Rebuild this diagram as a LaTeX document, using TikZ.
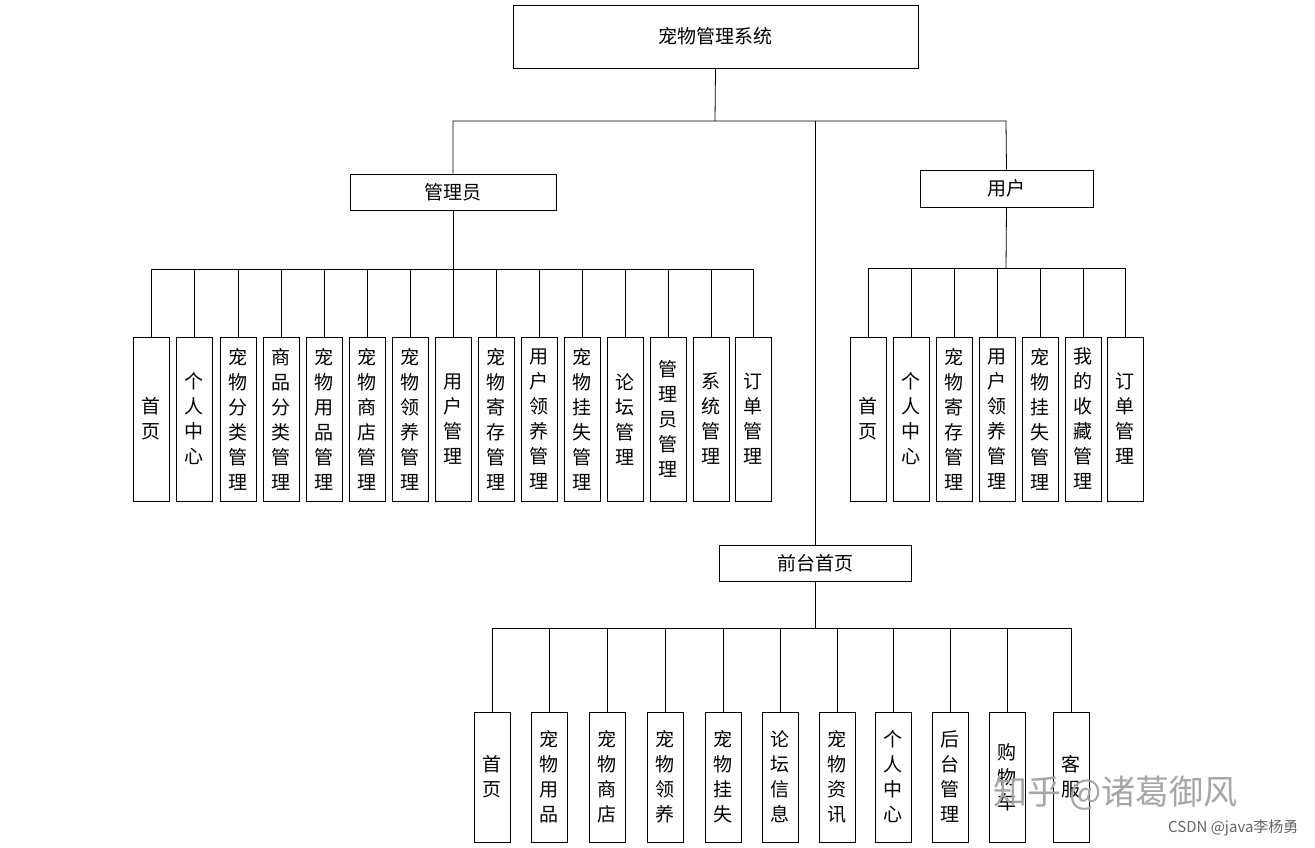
\documentclass[tikz,border=0pt]{standalone}
\usepackage{fontspec}
\setmainfont{Noto Sans CJK SC}
\begin{document}
\begin{tikzpicture}[x=1pt,y=-1pt,
  box/.style={draw,line width=0.8pt,inner sep=0pt,font=\fontsize{19}{25}\selectfont},
  vbox/.style={box,minimum width=36pt,minimum height=164pt,align=center},
  fbox/.style={box,minimum width=36pt,minimum height=130pt,align=center},
  ln/.style={line width=0.8pt}]
\useasboundingbox (0,0) rectangle (1315,847);
\fill[white] (0,0) rectangle (1315,847);
\node[box,minimum width=405pt,minimum height=63pt] (root) at (715.5,36.5) {宠物管理系统};
\node[box,minimum width=206pt,minimum height=36pt] (adm) at (453,192) {管理员};
\node[box,minimum width=173pt,minimum height=37pt] (usr) at (1006.5,188.5) {用户};
\node[box,minimum width=192pt,minimum height=36pt] (fp) at (815,563) {前台首页};
\coordinate (j) at (715,121);
\draw[ln] (root.south) -- (j);
\draw[ln] (adm.north) -- (453,121) -- (1006,121) -- (usr.north);
\draw[ln] (815,121) -- (fp.north);
% admin children
\def\abus{269}
\foreach \x/\t [count=\i] in {151/首\\页,194/个\\人\\中\\心,238/宠\\物\\分\\类\\管\\理,281/商\\品\\分\\类\\管\\理,324/宠\\物\\用\\品\\管\\理,367/宠\\物\\商\\店\\管\\理,410/宠\\物\\领\\养\\管\\理,453/用\\户\\管\\理,496/宠\\物\\寄\\存\\管\\理,539/用\\户\\领\\养\\管\\理,582/宠\\物\\挂\\失\\管\\理,625/论\\坛\\管\\理,668/管\\理\\员\\管\\理,711/系\\统\\管\\理,753/订\\单\\管\\理}{
  \node[vbox] (a\i) at (\x,419) {\t};
  \draw[ln] (a\i.north) -- (\x,\abus);
}
\draw[ln] (151,\abus) -- (753,\abus);
\draw[ln] (adm.south) -- (453,\abus);
% user children
\foreach \x/\t [count=\i] in {868/首\\页,911/个\\人\\中\\心,954/宠\\物\\寄\\存\\管\\理,997/用\\户\\领\\养\\管\\理,1040/宠\\物\\挂\\失\\管\\理,1083/我\\的\\收\\藏\\管\\理,1125/订\\单\\管\\理}{
  \node[vbox] (u\i) at (\x,419) {\t};
  \draw[ln] (u\i.north) -- (\x,268);
}
\draw[ln] (868,268) -- (1125,268);
\draw[ln] (usr.south) -- (1006,268);
% front children
\foreach \x/\t [count=\i] in {492/首\\页,549/宠\\物\\用\\品,607/宠\\物\\商\\店,665/宠\\物\\领\\养,723/宠\\物\\挂\\失,780/论\\坛\\信\\息,837/宠\\物\\资\\讯,893/个\\人\\中\\心,950/后\\台\\管\\理,1007/购\\物\\车,1071/客\\服}{
  \node[fbox] (f\i) at (\x,777) {\t};
  \draw[ln] (f\i.north) -- (\x,628);
}
\draw[ln] (492,628) -- (1071,628);
\draw[ln] (fp.south) -- (815,628);
\node[text=black!35,font=\fontsize{34}{34}\selectfont,anchor=west] (wm1) at (990,793) {知乎 @诸葛御风};
\node[text=black!60,font=\fontsize{15}{15}\selectfont,anchor=east] (wm2) at (1302,828) {CSDN @java李杨勇};
\end{tikzpicture}
\end{document}
